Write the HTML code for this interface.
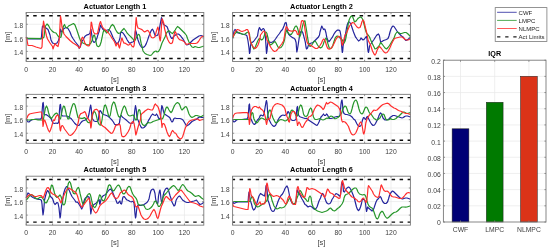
<!DOCTYPE html>
<html><head><meta charset="utf-8"><style>html,body{margin:0;padding:0;background:#fff;}svg{display:block;filter:blur(0.3px);}</style></head>
<body><svg width="550" height="251" viewBox="0 0 550 251">
<rect width="550" height="251" fill="#fff"/>
<path d="M52.57 12.50V61.45M78.94 12.50V61.45M105.31 12.50V61.45M131.68 12.50V61.45M158.05 12.50V61.45M184.42 12.50V61.45M26.20 51.40H203.80M26.20 37.85H203.80M26.20 24.30H203.80" stroke="#e8e8e8" stroke-width="0.7" fill="none"/>
<path d="M26.20 15.80H203.80" stroke="#0a0a0a" stroke-width="1.4" stroke-dasharray="3.5 4.5" stroke-dashoffset="1" fill="none"/>
<path d="M26.20 58.45H203.80" stroke="#0a0a0a" stroke-width="1.4" stroke-dasharray="3.5 4.5" stroke-dashoffset="1" fill="none"/>
<path d="M26.2 37.2 L27.5 38.8 L29.0 39.0 L41.0 38.9 L41.5 36.5 L42.0 30.0 L42.5 26.0 L43.5 27.0 L45.0 27.0 L46.0 28.0 L48.0 29.5 L50.0 35.0 L51.0 40.0 L52.5 43.0 L55.0 43.8 L57.0 43.0 L58.5 40.5 L59.5 37.0 L60.0 33.0 L60.5 29.0 L61.5 32.0 L62.5 31.5 L63.5 29.0 L65.0 28.0 L66.5 27.5 L68.0 28.5 L70.0 32.0 L71.5 36.0 L73.0 38.5 L75.0 41.5 L77.0 44.0 L78.5 46.2 L79.2 48.3 L80.4 46.7 L81.6 42.0 L83.2 39.6 L84.8 36.4 L86.0 35.6 L87.2 34.8 L88.8 34.4 L90.0 33.2 L90.5 30.0 L91.0 29.5 L91.5 33.0 L92.0 36.4 L92.7 40.4 L93.5 42.0 L94.3 42.4 L95.5 41.2 L96.7 38.8 L97.9 34.8 L99.1 31.6 L99.9 28.0 L100.5 25.0 L101.5 27.0 L103.0 29.5 L104.5 30.5 L106.0 30.5 L107.5 30.0 L109.0 29.5 L110.5 31.5 L112.0 35.0 L113.0 37.5 L115.0 41.0 L116.5 43.5 L118.0 43.0 L119.0 41.0 L120.0 38.0 L120.5 33.0 L121.5 32.0 L123.0 33.0 L124.0 34.4 L125.6 36.8 L127.2 40.0 L128.8 42.4 L130.0 43.2 L131.2 42.4 L132.8 42.0 L134.0 41.2 L134.8 36.0 L135.2 32.0 L135.6 30.4 L136.4 32.8 L137.2 36.8 L138.0 40.0 L139.2 43.2 L140.3 45.5 L141.5 47.1 L142.7 47.5 L143.9 47.1 L145.1 45.9 L146.3 43.6 L147.5 40.4 L148.7 36.8 L149.9 33.6 L151.5 30.0 L152.5 29.2 L153.5 31.0 L154.5 34.0 L155.5 36.0 L156.8 35.5 L157.9 34.9 L159.1 30.7 L160.3 23.6 L161.5 17.6 L162.5 21.5 L163.5 24.5 L165.1 25.4 L166.9 26.5 L167.6 28.0 L168.4 30.4 L169.2 32.8 L170.0 35.2 L170.8 37.2 L171.6 38.4 L172.4 38.4 L173.2 37.2 L174.0 36.0 L174.8 35.6 L175.9 34.8 L177.1 34.0 L178.3 34.0 L179.5 34.8 L180.7 36.0 L181.9 37.6 L183.1 39.2 L184.3 41.2 L185.5 43.6 L186.7 44.8 L188.5 44.5 L190.0 43.0 L191.5 41.5 L193.0 40.0 L194.5 39.0 L196.0 38.0 L197.5 37.0 L199.0 36.0 L201.0 35.5 L202.5 36.0 L203.8 36.5" stroke="#24249c" stroke-width="1.2" fill="none" stroke-linejoin="round"/>
<path d="M26.2 37.6 L27.5 38.4 L42.0 38.7 L43.0 38.0 L44.0 37.0 L45.0 29.0 L45.5 26.0 L47.0 24.0 L48.5 25.5 L50.0 28.5 L52.0 31.0 L54.0 32.5 L56.0 33.0 L58.0 36.0 L59.0 37.0 L60.0 37.5 L61.0 37.0 L62.5 30.0 L63.5 26.0 L64.5 24.5 L65.5 27.0 L67.0 28.0 L68.5 26.0 L70.5 25.0 L73.5 23.5 L75.0 25.0 L76.5 29.0 L78.0 33.5 L79.5 38.0 L80.8 41.2 L82.4 42.8 L85.0 44.0 L87.0 44.8 L89.2 44.8 L90.8 43.2 L92.0 40.4 L93.0 37.0 L93.5 35.6 L94.3 34.8 L95.1 37.2 L96.0 42.0 L96.7 45.2 L97.5 46.3 L98.7 46.7 L99.9 45.5 L101.1 42.0 L102.3 36.4 L103.1 32.4 L104.0 30.0 L105.5 31.5 L106.5 33.0 L108.0 32.0 L109.5 29.0 L111.0 26.0 L112.5 24.5 L114.0 26.0 L115.5 29.5 L117.0 32.0 L118.5 33.5 L120.0 33.0 L122.0 30.5 L124.0 28.5 L125.6 30.5 L127.2 33.2 L128.8 34.8 L130.4 36.4 L132.0 38.0 L133.6 40.0 L134.4 40.8 L135.2 40.0 L136.4 37.6 L137.6 35.2 L138.4 34.4 L139.2 34.8 L140.0 36.8 L140.3 39.2 L141.1 43.2 L142.0 46.3 L143.0 51.0 L145.0 53.5 L147.0 54.5 L148.5 55.0 L150.0 55.5 L151.5 55.0 L153.0 53.0 L154.5 51.5 L156.0 51.0 L157.0 52.0 L158.5 51.5 L160.0 49.0 L161.0 46.0 L162.0 43.0 L163.5 40.0 L165.0 37.0 L166.4 33.2 L167.6 31.6 L168.8 30.8 L170.0 31.6 L171.2 32.8 L172.4 33.6 L173.6 32.4 L174.4 31.2 L175.2 30.0 L176.0 28.5 L177.5 26.5 L179.0 27.5 L181.0 29.5 L183.0 31.5 L185.0 33.5 L186.5 35.5 L187.5 38.5 L189.0 42.0 L190.5 45.0 L192.0 47.0 L193.5 47.5 L195.0 46.5 L196.5 47.0 L198.0 47.5 L199.5 47.5 L201.0 47.0 L202.5 46.5 L203.8 46.0" stroke="#26962a" stroke-width="1.2" fill="none" stroke-linejoin="round"/>
<path d="M26.2 37.0 L27.0 40.0 L28.0 45.5 L32.0 45.5 L36.0 47.0 L41.0 48.5 L42.0 47.0 L42.5 37.0 L43.0 27.0 L43.5 21.2 L45.0 29.0 L46.5 36.0 L47.5 39.0 L50.0 43.0 L52.5 46.5 L53.0 49.0 L54.0 46.0 L55.0 43.5 L56.0 45.0 L58.0 46.5 L59.0 42.0 L59.5 37.0 L60.0 25.0 L60.5 16.0 L61.2 20.0 L62.0 27.0 L64.0 34.0 L66.0 36.5 L68.0 38.5 L70.0 40.5 L73.0 43.0 L75.5 44.5 L77.6 46.0 L79.2 48.0 L80.0 47.1 L80.8 43.6 L81.6 38.8 L82.4 37.2 L83.2 38.0 L84.0 40.4 L84.8 42.8 L86.0 44.8 L87.2 45.6 L88.8 46.0 L89.6 45.2 L90.2 40.0 L90.6 30.0 L91.2 22.0 L91.6 22.5 L92.5 28.0 L93.5 32.0 L94.5 33.5 L96.0 34.0 L97.5 33.5 L98.5 29.0 L99.5 24.0 L100.5 21.5 L101.5 24.5 L102.5 27.0 L104.0 29.0 L105.5 30.0 L107.0 31.5 L108.5 33.0 L110.0 35.0 L111.0 36.5 L112.5 39.0 L114.0 41.0 L115.0 43.0 L116.0 46.0 L117.0 44.0 L118.0 43.0 L119.0 47.0 L119.5 48.0 L120.5 44.0 L121.5 39.0 L122.0 38.0 L123.0 41.0 L124.0 43.2 L125.2 43.2 L126.4 44.0 L128.0 45.1 L129.2 44.7 L130.0 43.6 L130.8 44.3 L132.0 46.3 L133.2 47.1 L134.0 45.9 L134.4 43.2 L134.8 38.4 L135.2 32.8 L135.6 25.0 L136.2 17.5 L137.0 25.0 L138.0 28.0 L140.0 28.8 L142.0 29.6 L143.5 31.2 L144.7 32.0 L145.9 31.2 L147.1 30.4 L148.3 30.8 L149.5 32.8 L150.3 35.2 L151.5 37.5 L153.0 38.0 L154.4 37.3 L155.0 36.7 L156.2 31.9 L157.4 28.3 L157.9 27.1 L158.5 29.5 L159.1 34.3 L159.7 39.1 L160.3 41.0 L160.9 35.5 L161.5 25.9 L162.1 18.8 L162.7 20.0 L163.9 23.6 L164.4 28.0 L165.2 31.2 L166.0 34.4 L166.8 36.8 L167.6 39.2 L168.8 41.6 L170.0 43.2 L171.2 43.6 L172.4 42.8 L173.2 39.2 L174.0 35.2 L174.8 32.0 L175.2 31.6 L175.9 32.8 L176.7 35.2 L177.9 37.6 L179.1 39.2 L180.3 40.0 L181.5 40.2 L182.7 40.8 L184.0 41.5 L185.5 43.5 L186.5 44.5 L188.0 44.0 L189.5 43.5 L191.0 43.5 L194.0 43.5 L195.5 43.5 L197.0 43.0 L198.5 41.5 L200.0 39.0 L201.5 37.0 L202.5 36.5 L203.8 36.0" stroke="#ff2d2d" stroke-width="1.2" fill="none" stroke-linejoin="round"/>
<rect x="26.20" y="12.50" width="177.60" height="48.95" stroke="#7a7a7a" stroke-width="0.9" fill="none"/>
<path d="M26.20 61.45v-1.6M26.20 12.50v1.6M52.57 61.45v-1.6M52.57 12.50v1.6M78.94 61.45v-1.6M78.94 12.50v1.6M105.31 61.45v-1.6M105.31 12.50v1.6M131.68 61.45v-1.6M131.68 12.50v1.6M158.05 61.45v-1.6M158.05 12.50v1.6M184.42 61.45v-1.6M184.42 12.50v1.6M26.20 51.40h1.6M203.80 51.40h-1.6M26.20 37.85h1.6M203.80 37.85h-1.6M26.20 24.30h1.6M203.80 24.30h-1.6" stroke="#7a7a7a" stroke-width="0.8" fill="none"/>
<text x="26.20" y="71.75" text-anchor="middle" font-size="6.8" fill="#404040" font-family="Liberation Sans, Arial, sans-serif">0</text>
<text x="52.57" y="71.75" text-anchor="middle" font-size="6.8" fill="#404040" font-family="Liberation Sans, Arial, sans-serif">20</text>
<text x="78.94" y="71.75" text-anchor="middle" font-size="6.8" fill="#404040" font-family="Liberation Sans, Arial, sans-serif">40</text>
<text x="105.31" y="71.75" text-anchor="middle" font-size="6.8" fill="#404040" font-family="Liberation Sans, Arial, sans-serif">60</text>
<text x="131.68" y="71.75" text-anchor="middle" font-size="6.8" fill="#404040" font-family="Liberation Sans, Arial, sans-serif">80</text>
<text x="158.05" y="71.75" text-anchor="middle" font-size="6.8" fill="#404040" font-family="Liberation Sans, Arial, sans-serif">100</text>
<text x="184.42" y="71.75" text-anchor="middle" font-size="6.8" fill="#404040" font-family="Liberation Sans, Arial, sans-serif">120</text>
<text x="23.20" y="55.10" text-anchor="end" font-size="6.6" fill="#404040" font-family="Liberation Sans, Arial, sans-serif">1.4</text>
<text x="23.20" y="41.55" text-anchor="end" font-size="6.6" fill="#404040" font-family="Liberation Sans, Arial, sans-serif">1.6</text>
<text x="23.20" y="28.00" text-anchor="end" font-size="6.6" fill="#404040" font-family="Liberation Sans, Arial, sans-serif">1.8</text>
<text x="115.00" y="8.70" text-anchor="middle" font-size="7.35" font-weight="bold" fill="#000000" font-family="Liberation Sans, Arial, sans-serif">Actuator Length 1</text>
<text x="115.00" y="81.65" text-anchor="middle" font-size="7.5" fill="#404040" font-family="Liberation Sans, Arial, sans-serif">[s]</text>
<text x="9.70" y="36.98" text-anchor="middle" font-size="7.5" fill="#404040" transform="rotate(-90 9.70 36.98)" font-family="Liberation Sans, Arial, sans-serif">[m]</text>
<path d="M259.00 12.50V61.45M285.40 12.50V61.45M311.80 12.50V61.45M338.20 12.50V61.45M364.60 12.50V61.45M391.00 12.50V61.45M232.60 51.40H410.40M232.60 37.85H410.40M232.60 24.30H410.40" stroke="#e8e8e8" stroke-width="0.7" fill="none"/>
<path d="M232.60 15.80H410.40" stroke="#0a0a0a" stroke-width="1.4" stroke-dasharray="3.5 4.5" stroke-dashoffset="1" fill="none"/>
<path d="M232.60 58.45H410.40" stroke="#0a0a0a" stroke-width="1.4" stroke-dasharray="3.5 4.5" stroke-dashoffset="1" fill="none"/>
<path d="M232.6 38.0 L233.0 37.0 L234.0 31.0 L235.0 29.5 L236.0 30.5 L237.0 32.0 L238.0 33.0 L240.0 33.5 L242.0 34.0 L244.0 34.5 L246.0 35.0 L247.0 36.0 L248.0 41.0 L249.0 48.0 L249.5 53.5 L250.0 52.0 L250.5 46.0 L251.0 43.0 L252.0 42.5 L253.5 41.5 L255.0 39.5 L256.5 37.5 L257.5 36.0 L258.5 30.0 L259.5 27.5 L260.5 29.5 L261.5 30.5 L262.5 29.0 L263.5 28.5 L264.5 30.0 L265.0 33.0 L265.5 38.0 L266.0 46.0 L266.5 53.5 L267.0 51.0 L267.5 45.0 L268.0 42.0 L269.5 42.0 L271.0 42.5 L272.5 42.0 L274.0 41.0 L275.5 39.0 L276.5 37.5 L277.5 36.0 L279.5 33.5 L281.0 31.0 L282.5 29.5 L284.0 26.0 L285.0 23.0 L286.0 22.5 L286.5 24.0 L287.3 30.8 L288.6 34.3 L290.4 36.0 L292.1 37.4 L293.9 38.2 L295.2 39.5 L296.1 42.5 L296.5 48.0 L296.8 52.0 L297.5 49.0 L298.3 44.0 L299.2 37.8 L300.0 33.4 L300.9 31.6 L301.8 31.2 L302.7 32.5 L303.5 35.2 L304.4 38.7 L305.3 42.2 L306.0 47.0 L306.5 49.0 L307.5 48.0 L308.5 45.0 L310.0 43.5 L311.5 43.0 L313.0 42.5 L314.5 41.0 L316.0 39.5 L317.5 38.0 L318.5 37.0 L319.5 35.0 L320.0 32.0 L321.0 28.5 L321.8 26.0 L322.5 27.5 L323.5 29.5 L324.5 29.0 L325.0 29.5 L326.0 33.0 L326.5 36.0 L327.0 38.0 L328.0 40.5 L329.0 41.5 L330.0 40.5 L331.0 39.0 L332.4 37.2 L334.0 34.0 L335.6 31.6 L337.2 30.2 L338.8 30.0 L340.0 31.0 L340.8 35.0 L341.2 40.4 L341.6 45.0 L342.0 50.0 L342.3 52.5 L342.7 51.0 L343.1 46.0 L343.9 42.0 L344.7 38.8 L345.5 34.0 L346.5 28.0 L347.5 24.0 L348.5 22.0 L349.5 22.0 L350.5 23.5 L351.5 26.0 L352.5 29.0 L353.5 32.0 L354.5 34.5 L355.5 37.0 L356.0 37.5 L357.0 39.0 L358.5 41.0 L360.0 40.0 L361.0 38.0 L362.0 39.0 L363.0 40.0 L364.5 39.0 L365.5 37.5 L366.5 36.5 L367.0 39.0 L367.5 46.0 L368.0 51.0 L368.5 52.5 L369.0 50.0 L369.5 46.0 L370.5 44.5 L371.5 43.0 L372.5 41.5 L374.0 39.5 L375.5 37.0 L376.5 35.5 L377.5 34.5 L378.5 34.0 L379.5 36.0 L380.0 39.0 L380.5 41.5 L381.0 42.0 L382.0 41.5 L383.5 40.5 L385.0 40.0 L386.5 39.5 L388.0 38.5 L389.0 36.0 L390.0 32.0 L391.0 29.0 L392.0 27.0 L393.0 26.0 L394.0 26.5 L395.0 28.0 L396.0 29.5 L397.0 31.0 L398.5 33.0 L400.0 34.5 L401.5 36.0 L403.0 37.0 L403.5 37.5 L405.0 39.5 L406.0 40.5 L407.0 40.0 L408.5 39.0 L409.5 38.0 L410.4 37.5" stroke="#24249c" stroke-width="1.2" fill="none" stroke-linejoin="round"/>
<path d="M232.6 38.0 L233.0 37.0 L235.0 33.5 L237.0 32.0 L239.0 32.5 L241.0 33.5 L243.0 34.5 L245.0 34.0 L247.0 32.5 L248.5 32.0 L249.5 34.0 L250.0 39.0 L251.0 42.5 L252.0 45.0 L253.0 47.5 L253.8 49.0 L254.6 48.5 L255.5 46.5 L256.5 44.0 L257.5 41.5 L258.5 39.5 L259.5 38.5 L260.5 39.0 L261.5 40.0 L262.5 39.5 L263.5 38.0 L264.5 35.0 L265.0 32.5 L266.0 32.0 L267.0 33.5 L267.5 36.0 L268.5 40.0 L269.5 43.5 L270.5 45.0 L272.0 44.0 L273.5 42.5 L275.0 41.5 L276.0 43.0 L277.0 45.0 L278.0 47.0 L279.5 48.0 L281.0 47.5 L282.5 45.5 L283.5 43.0 L284.5 40.0 L285.5 34.0 L286.4 30.0 L287.8 32.5 L289.5 34.3 L291.3 34.3 L292.6 32.5 L293.9 29.0 L295.2 26.4 L296.1 25.9 L297.0 26.8 L297.8 29.0 L298.7 32.5 L299.2 35.2 L299.6 36.9 L300.5 35.2 L301.4 31.6 L302.2 27.3 L303.1 23.8 L304.0 21.0 L305.0 20.8 L305.7 25.5 L306.6 30.8 L307.5 36.9 L308.4 42.2 L309.0 45.0 L310.0 46.5 L311.0 46.0 L312.5 44.0 L313.5 42.0 L314.5 41.0 L315.5 41.5 L316.5 43.0 L317.5 45.0 L319.0 47.0 L320.5 48.0 L322.0 47.0 L323.0 45.0 L324.0 42.0 L325.0 39.5 L326.0 38.0 L327.0 40.0 L328.0 44.0 L329.2 47.9 L330.4 48.5 L331.6 48.0 L332.8 45.5 L334.0 41.5 L335.2 38.0 L336.4 36.4 L337.6 36.0 L338.8 36.8 L340.0 38.0 L341.2 38.8 L342.3 40.0 L343.1 42.0 L343.9 43.2 L344.7 42.0 L345.5 40.0 L346.3 36.0 L347.1 31.0 L347.9 27.0 L348.5 22.0 L349.5 19.0 L350.5 17.0 L351.5 16.0 L352.5 16.5 L353.5 19.0 L354.5 22.0 L355.5 21.5 L356.5 20.5 L357.5 19.0 L358.5 18.0 L359.5 17.5 L360.5 17.0 L361.5 17.5 L362.5 19.0 L363.5 22.0 L364.5 26.0 L365.5 30.0 L366.5 33.0 L367.5 34.5 L368.5 35.5 L369.5 37.0 L370.5 39.5 L372.0 43.0 L373.5 46.0 L375.0 49.0 L376.5 48.5 L378.0 47.0 L379.5 45.0 L380.5 42.5 L382.0 44.0 L383.5 46.0 L385.0 48.0 L386.5 49.0 L388.0 47.5 L389.5 45.5 L391.0 43.0 L392.5 40.5 L394.0 38.0 L395.5 34.0 L397.0 32.0 L398.5 32.5 L400.0 33.5 L401.5 33.5 L403.0 33.0 L404.5 32.5 L406.0 32.5 L407.5 33.5 L409.0 35.0 L410.4 36.5" stroke="#26962a" stroke-width="1.2" fill="none" stroke-linejoin="round"/>
<path d="M232.6 37.5 L233.0 37.0 L234.5 33.0 L236.0 30.5 L237.5 29.5 L239.0 30.0 L240.5 31.0 L242.0 31.5 L243.5 31.0 L245.0 30.5 L246.5 29.5 L247.5 29.5 L248.5 31.5 L249.5 36.0 L250.5 42.0 L252.0 45.0 L253.5 47.5 L255.0 48.5 L256.5 47.5 L258.0 45.0 L259.0 42.0 L260.0 38.5 L260.5 35.0 L262.0 33.0 L263.5 31.0 L264.5 31.5 L265.5 33.5 L266.5 37.0 L267.0 40.0 L268.0 42.0 L269.0 43.5 L270.0 46.0 L271.5 48.5 L273.0 50.5 L274.5 51.5 L276.0 51.0 L277.5 49.5 L279.0 47.5 L280.5 45.5 L282.0 43.5 L283.5 41.0 L284.5 36.0 L285.3 30.0 L286.3 26.5 L287.5 28.0 L288.6 30.3 L290.4 30.8 L292.1 31.2 L293.9 30.8 L295.2 30.3 L296.5 31.6 L297.4 34.3 L298.3 34.7 L299.2 33.4 L300.0 29.0 L300.9 24.6 L301.5 21.0 L302.5 20.5 L303.5 21.5 L304.4 25.5 L305.3 31.6 L306.2 37.8 L307.0 42.0 L308.0 44.0 L309.5 44.5 L311.0 45.5 L312.5 46.5 L314.0 47.5 L315.5 48.5 L317.0 48.5 L318.5 47.5 L320.0 45.5 L321.5 43.0 L322.5 40.5 L323.5 39.0 L324.5 39.5 L325.5 42.0 L326.5 45.5 L327.5 48.0 L328.5 49.0 L330.0 49.1 L331.5 47.9 L333.0 45.6 L334.4 42.8 L335.6 40.0 L336.8 38.0 L338.0 36.8 L339.2 36.4 L340.4 37.2 L341.2 38.8 L341.6 41.2 L341.9 44.0 L342.3 45.2 L342.7 44.4 L343.5 41.2 L344.3 38.0 L345.1 34.8 L346.5 33.0 L348.0 29.5 L349.5 26.0 L351.0 24.0 L352.5 22.5 L354.0 23.0 L355.5 25.0 L357.0 27.0 L358.5 28.0 L360.0 27.5 L361.0 25.0 L362.0 21.5 L363.0 20.0 L364.0 21.5 L365.0 26.0 L366.0 30.0 L367.0 34.0 L368.0 40.0 L369.0 42.0 L370.0 44.0 L371.0 46.5 L372.5 51.0 L374.0 54.0 L375.0 55.0 L376.0 53.5 L377.0 50.5 L378.5 47.5 L379.5 46.5 L381.0 48.0 L382.5 50.0 L384.0 52.0 L385.5 53.0 L387.0 52.5 L388.5 50.5 L390.0 47.5 L391.5 44.0 L393.0 41.0 L394.5 38.5 L396.0 38.0 L398.0 37.5 L400.0 37.0 L402.0 37.0 L403.5 38.0 L405.0 39.5 L406.5 40.0 L408.0 40.0 L409.5 39.5 L410.4 39.0" stroke="#ff2d2d" stroke-width="1.2" fill="none" stroke-linejoin="round"/>
<rect x="232.60" y="12.50" width="177.80" height="48.95" stroke="#7a7a7a" stroke-width="0.9" fill="none"/>
<path d="M232.60 61.45v-1.6M232.60 12.50v1.6M259.00 61.45v-1.6M259.00 12.50v1.6M285.40 61.45v-1.6M285.40 12.50v1.6M311.80 61.45v-1.6M311.80 12.50v1.6M338.20 61.45v-1.6M338.20 12.50v1.6M364.60 61.45v-1.6M364.60 12.50v1.6M391.00 61.45v-1.6M391.00 12.50v1.6M232.60 51.40h1.6M410.40 51.40h-1.6M232.60 37.85h1.6M410.40 37.85h-1.6M232.60 24.30h1.6M410.40 24.30h-1.6" stroke="#7a7a7a" stroke-width="0.8" fill="none"/>
<text x="232.60" y="71.75" text-anchor="middle" font-size="6.8" fill="#404040" font-family="Liberation Sans, Arial, sans-serif">0</text>
<text x="259.00" y="71.75" text-anchor="middle" font-size="6.8" fill="#404040" font-family="Liberation Sans, Arial, sans-serif">20</text>
<text x="285.40" y="71.75" text-anchor="middle" font-size="6.8" fill="#404040" font-family="Liberation Sans, Arial, sans-serif">40</text>
<text x="311.80" y="71.75" text-anchor="middle" font-size="6.8" fill="#404040" font-family="Liberation Sans, Arial, sans-serif">60</text>
<text x="338.20" y="71.75" text-anchor="middle" font-size="6.8" fill="#404040" font-family="Liberation Sans, Arial, sans-serif">80</text>
<text x="364.60" y="71.75" text-anchor="middle" font-size="6.8" fill="#404040" font-family="Liberation Sans, Arial, sans-serif">100</text>
<text x="391.00" y="71.75" text-anchor="middle" font-size="6.8" fill="#404040" font-family="Liberation Sans, Arial, sans-serif">120</text>
<text x="229.60" y="55.10" text-anchor="end" font-size="6.6" fill="#404040" font-family="Liberation Sans, Arial, sans-serif">1.4</text>
<text x="229.60" y="41.55" text-anchor="end" font-size="6.6" fill="#404040" font-family="Liberation Sans, Arial, sans-serif">1.6</text>
<text x="229.60" y="28.00" text-anchor="end" font-size="6.6" fill="#404040" font-family="Liberation Sans, Arial, sans-serif">1.8</text>
<text x="321.50" y="8.70" text-anchor="middle" font-size="7.35" font-weight="bold" fill="#000000" font-family="Liberation Sans, Arial, sans-serif">Actuator Length 2</text>
<text x="321.50" y="81.65" text-anchor="middle" font-size="7.5" fill="#404040" font-family="Liberation Sans, Arial, sans-serif">[s]</text>
<text x="216.10" y="36.98" text-anchor="middle" font-size="7.5" fill="#404040" transform="rotate(-90 216.10 36.98)" font-family="Liberation Sans, Arial, sans-serif">[m]</text>
<path d="M52.57 94.35V143.30M78.94 94.35V143.30M105.31 94.35V143.30M131.68 94.35V143.30M158.05 94.35V143.30M184.42 94.35V143.30M26.20 133.25H203.80M26.20 119.70H203.80M26.20 106.15H203.80" stroke="#e8e8e8" stroke-width="0.7" fill="none"/>
<path d="M26.20 97.65H203.80" stroke="#0a0a0a" stroke-width="1.4" stroke-dasharray="3.5 4.5" stroke-dashoffset="1" fill="none"/>
<path d="M26.20 140.30H203.80" stroke="#0a0a0a" stroke-width="1.4" stroke-dasharray="3.5 4.5" stroke-dashoffset="1" fill="none"/>
<path d="M26.2 119.0 L27.0 120.5 L28.0 122.0 L29.0 122.0 L30.0 121.0 L31.5 120.0 L33.5 119.5 L36.0 119.2 L38.5 119.2 L40.5 119.2 L41.5 118.0 L42.2 110.0 L42.8 103.0 L43.2 102.5 L43.7 107.0 L44.0 114.0 L44.5 115.0 L46.0 114.5 L47.5 115.5 L49.0 116.5 L50.5 118.0 L51.5 119.5 L52.0 121.0 L53.0 123.0 L54.5 123.5 L56.0 123.0 L57.5 123.5 L58.5 122.5 L59.0 119.0 L59.5 110.0 L60.0 105.0 L60.5 104.5 L61.0 109.0 L61.5 115.0 L62.5 116.0 L64.5 116.0 L66.5 116.0 L68.0 116.5 L69.5 117.5 L71.0 118.5 L71.5 119.0 L73.0 121.0 L74.5 123.0 L76.0 124.5 L77.5 125.5 L79.0 125.5 L80.0 124.0 L81.0 122.5 L82.5 121.0 L84.0 120.5 L85.5 120.0 L86.5 119.0 L88.0 118.0 L89.0 114.0 L90.0 108.0 L90.7 105.0 L91.2 108.0 L91.7 114.0 L92.0 118.0 L93.0 119.5 L94.0 121.0 L95.5 121.5 L97.0 121.5 L98.0 120.5 L98.5 119.0 L99.0 114.0 L100.0 110.5 L101.0 111.5 L102.0 113.5 L103.5 114.5 L105.0 115.0 L106.5 115.5 L108.0 116.2 L109.8 117.8 L111.6 119.6 L113.4 122.0 L114.6 124.3 L115.8 124.9 L117.0 124.6 L118.2 124.5 L119.4 123.1 L119.9 119.6 L120.5 116.0 L121.1 115.4 L122.3 117.0 L124.1 118.4 L125.9 119.8 L127.7 121.4 L129.5 123.0 L131.3 123.5 L133.0 123.0 L133.7 120.8 L134.3 114.8 L134.8 110.0 L135.5 105.5 L136.2 109.0 L136.8 116.0 L137.2 119.0 L138.0 120.0 L139.0 122.5 L140.0 125.0 L141.0 127.0 L142.0 128.0 L143.0 128.0 L144.0 127.5 L145.0 126.5 L146.0 125.5 L147.0 123.5 L148.0 121.5 L149.0 119.5 L149.5 119.0 L151.0 116.0 L152.5 114.0 L154.0 115.0 L155.5 115.5 L156.5 114.0 L157.5 115.5 L158.5 118.0 L159.5 119.0 L160.5 118.0 L161.0 112.0 L161.8 105.5 L162.5 107.0 L163.5 111.5 L164.5 114.0 L166.0 115.0 L167.5 116.0 L169.0 117.0 L170.0 118.0 L171.0 120.5 L172.0 122.0 L173.0 121.0 L173.5 119.5 L174.0 118.5 L175.0 118.0 L176.5 118.5 L178.0 118.5 L180.0 118.5 L181.5 119.0 L183.0 120.0 L184.5 122.5 L186.0 125.0 L186.5 126.0 L187.5 125.5 L189.0 124.5 L190.5 123.0 L192.0 121.5 L194.0 120.5 L196.0 119.5 L197.5 118.5 L198.5 117.5 L200.0 117.0 L201.5 117.5 L203.0 117.5 L203.8 117.0" stroke="#24249c" stroke-width="1.2" fill="none" stroke-linejoin="round"/>
<path d="M26.2 119.5 L28.0 120.0 L30.0 120.0 L32.0 119.5 L36.0 119.5 L38.0 119.8 L41.0 120.0 L42.0 120.0 L43.0 120.5 L43.5 119.0 L44.5 113.0 L45.5 108.0 L46.5 106.0 L47.5 108.0 L48.5 112.5 L49.5 115.5 L50.5 117.5 L51.5 118.5 L52.5 117.0 L54.0 115.0 L55.5 113.5 L56.5 113.0 L57.5 114.0 L58.5 116.0 L59.5 118.0 L60.0 119.0 L60.5 119.0 L61.5 114.0 L62.5 109.0 L63.5 106.0 L64.5 106.5 L65.5 110.5 L66.5 115.0 L67.5 118.0 L68.0 119.0 L69.0 119.0 L70.0 114.0 L71.5 108.0 L73.0 104.0 L74.0 103.5 L75.0 105.0 L76.0 109.0 L77.0 113.5 L78.0 117.6 L79.6 118.0 L81.2 118.4 L82.8 118.4 L84.4 117.6 L85.6 118.4 L86.8 120.8 L88.0 122.4 L89.2 122.8 L90.4 122.4 L91.2 120.8 L92.0 117.6 L92.8 114.4 L93.6 112.4 L94.4 111.6 L95.2 112.4 L96.0 114.4 L96.8 117.6 L97.6 120.8 L98.4 123.2 L99.2 124.4 L100.4 125.2 L101.2 124.0 L102.0 120.0 L102.8 114.4 L103.6 109.6 L104.5 105.5 L105.5 105.0 L106.5 107.5 L107.5 111.5 L108.5 115.5 L109.3 116.8 L110.2 115.5 L111.0 111.0 L111.8 106.0 L112.5 104.0 L113.5 102.0 L114.5 102.5 L115.5 105.5 L116.5 109.5 L117.5 113.5 L118.5 116.2 L119.6 117.2 L120.5 116.5 L122.0 111.0 L123.5 107.0 L124.5 106.0 L125.5 107.5 L126.5 111.0 L127.5 114.0 L128.5 115.5 L130.0 116.0 L131.5 115.5 L133.0 115.0 L134.0 116.0 L135.0 119.0 L136.0 120.0 L137.0 119.0 L138.0 112.0 L139.0 109.5 L140.0 110.5 L140.5 114.0 L141.0 119.0 L141.5 122.5 L142.5 124.5 L144.0 125.5 L145.5 125.0 L147.0 123.5 L148.5 122.5 L150.0 123.0 L151.5 122.5 L153.0 121.5 L154.5 121.0 L156.0 120.5 L157.5 120.0 L159.0 119.5 L160.5 119.0 L162.0 119.0 L163.0 118.0 L164.0 115.0 L165.0 111.0 L166.0 108.0 L167.0 107.0 L168.0 108.0 L169.0 110.0 L170.0 111.5 L171.0 112.5 L172.0 111.5 L173.0 109.0 L174.5 105.5 L176.0 103.5 L177.5 102.5 L179.0 103.5 L180.0 105.5 L181.0 108.5 L182.0 110.0 L183.5 108.5 L185.0 107.0 L186.0 106.5 L187.0 108.0 L188.0 111.0 L189.0 114.0 L190.5 116.5 L192.0 117.5 L194.0 116.5 L195.5 115.5 L197.0 115.5 L198.5 116.0 L200.0 116.5 L201.5 116.5 L203.0 115.5 L203.8 115.0" stroke="#26962a" stroke-width="1.2" fill="none" stroke-linejoin="round"/>
<path d="M26.2 119.0 L27.0 118.0 L28.0 115.5 L29.5 114.0 L31.5 113.5 L34.0 113.0 L37.0 112.5 L40.0 112.0 L41.5 112.0 L42.0 114.0 L42.5 119.0 L43.0 126.5 L43.5 124.0 L44.0 120.0 L44.7 120.0 L45.5 122.0 L46.5 125.0 L47.5 128.0 L48.5 130.5 L49.5 132.0 L50.5 130.0 L51.5 127.0 L52.5 123.5 L53.0 121.0 L53.5 120.0 L54.5 120.5 L55.0 119.0 L56.0 116.5 L57.5 115.0 L58.5 115.5 L59.0 118.0 L59.5 123.0 L60.0 129.0 L60.5 131.0 L61.0 128.0 L61.5 126.0 L62.5 125.5 L63.5 127.0 L64.5 129.0 L66.0 131.0 L67.5 133.0 L69.0 135.0 L70.5 135.5 L72.0 134.5 L73.5 133.0 L75.0 131.0 L76.5 128.5 L77.5 125.5 L78.5 121.0 L79.3 116.0 L80.8 113.6 L82.4 113.0 L83.6 112.4 L84.8 111.6 L85.6 112.8 L86.4 115.2 L87.2 117.6 L88.4 119.2 L89.6 120.8 L90.3 122.4 L90.8 128.0 L91.3 126.0 L91.8 121.0 L92.2 115.0 L92.8 112.8 L94.0 110.4 L95.2 109.6 L96.4 109.2 L97.6 110.0 L98.8 112.0 L99.6 116.0 L100.0 120.0 L100.5 123.5 L101.5 125.0 L103.0 126.2 L105.0 127.5 L107.0 129.5 L109.0 131.5 L111.0 133.3 L112.5 133.0 L114.0 130.0 L115.5 126.0 L116.5 124.8 L118.0 125.0 L119.5 124.0 L120.3 126.0 L121.0 132.0 L121.8 136.0 L123.0 136.8 L124.7 136.3 L126.5 134.3 L128.3 131.5 L129.5 129.0 L130.5 126.0 L131.0 123.5 L132.0 122.5 L133.0 121.5 L134.0 123.0 L135.0 129.0 L135.8 135.0 L136.5 133.0 L137.5 129.0 L138.5 125.5 L139.5 122.5 L140.5 119.5 L141.0 115.0 L142.0 113.5 L143.5 112.5 L145.0 111.0 L146.5 110.0 L148.0 109.0 L149.5 109.5 L151.0 110.0 L152.5 110.0 L153.5 108.0 L154.5 105.0 L155.5 104.0 L156.5 105.5 L157.5 106.0 L158.5 108.0 L159.5 111.5 L160.5 116.0 L161.0 118.0 L161.5 122.0 L162.0 127.5 L162.5 124.0 L163.5 123.5 L164.5 124.5 L165.5 127.0 L167.0 132.0 L168.5 135.5 L169.5 136.5 L170.5 135.0 L171.5 132.0 L172.5 130.5 L173.5 131.5 L174.5 133.0 L175.5 133.0 L176.5 134.5 L177.5 136.5 L179.0 138.0 L180.5 139.0 L181.5 138.5 L182.5 137.0 L183.5 134.0 L184.5 130.5 L185.5 127.5 L186.5 125.5 L187.5 123.5 L189.0 121.5 L190.5 120.5 L192.0 120.0 L194.0 119.5 L195.5 119.0 L197.0 119.0 L198.5 119.5 L199.5 120.5 L201.0 120.0 L202.5 119.5 L203.8 119.0" stroke="#ff2d2d" stroke-width="1.2" fill="none" stroke-linejoin="round"/>
<rect x="26.20" y="94.35" width="177.60" height="48.95" stroke="#7a7a7a" stroke-width="0.9" fill="none"/>
<path d="M26.20 143.30v-1.6M26.20 94.35v1.6M52.57 143.30v-1.6M52.57 94.35v1.6M78.94 143.30v-1.6M78.94 94.35v1.6M105.31 143.30v-1.6M105.31 94.35v1.6M131.68 143.30v-1.6M131.68 94.35v1.6M158.05 143.30v-1.6M158.05 94.35v1.6M184.42 143.30v-1.6M184.42 94.35v1.6M26.20 133.25h1.6M203.80 133.25h-1.6M26.20 119.70h1.6M203.80 119.70h-1.6M26.20 106.15h1.6M203.80 106.15h-1.6" stroke="#7a7a7a" stroke-width="0.8" fill="none"/>
<text x="26.20" y="153.60" text-anchor="middle" font-size="6.8" fill="#404040" font-family="Liberation Sans, Arial, sans-serif">0</text>
<text x="52.57" y="153.60" text-anchor="middle" font-size="6.8" fill="#404040" font-family="Liberation Sans, Arial, sans-serif">20</text>
<text x="78.94" y="153.60" text-anchor="middle" font-size="6.8" fill="#404040" font-family="Liberation Sans, Arial, sans-serif">40</text>
<text x="105.31" y="153.60" text-anchor="middle" font-size="6.8" fill="#404040" font-family="Liberation Sans, Arial, sans-serif">60</text>
<text x="131.68" y="153.60" text-anchor="middle" font-size="6.8" fill="#404040" font-family="Liberation Sans, Arial, sans-serif">80</text>
<text x="158.05" y="153.60" text-anchor="middle" font-size="6.8" fill="#404040" font-family="Liberation Sans, Arial, sans-serif">100</text>
<text x="184.42" y="153.60" text-anchor="middle" font-size="6.8" fill="#404040" font-family="Liberation Sans, Arial, sans-serif">120</text>
<text x="23.20" y="136.95" text-anchor="end" font-size="6.6" fill="#404040" font-family="Liberation Sans, Arial, sans-serif">1.4</text>
<text x="23.20" y="123.40" text-anchor="end" font-size="6.6" fill="#404040" font-family="Liberation Sans, Arial, sans-serif">1.6</text>
<text x="23.20" y="109.85" text-anchor="end" font-size="6.6" fill="#404040" font-family="Liberation Sans, Arial, sans-serif">1.8</text>
<text x="115.00" y="90.55" text-anchor="middle" font-size="7.35" font-weight="bold" fill="#000000" font-family="Liberation Sans, Arial, sans-serif">Actuator Length 3</text>
<text x="115.00" y="163.50" text-anchor="middle" font-size="7.5" fill="#404040" font-family="Liberation Sans, Arial, sans-serif">[s]</text>
<text x="9.70" y="118.83" text-anchor="middle" font-size="7.5" fill="#404040" transform="rotate(-90 9.70 118.83)" font-family="Liberation Sans, Arial, sans-serif">[m]</text>
<path d="M259.00 94.35V143.30M285.40 94.35V143.30M311.80 94.35V143.30M338.20 94.35V143.30M364.60 94.35V143.30M391.00 94.35V143.30M232.60 133.25H410.40M232.60 119.70H410.40M232.60 106.15H410.40" stroke="#e8e8e8" stroke-width="0.7" fill="none"/>
<path d="M232.60 97.65H410.40" stroke="#0a0a0a" stroke-width="1.4" stroke-dasharray="3.5 4.5" stroke-dashoffset="1" fill="none"/>
<path d="M232.60 140.30H410.40" stroke="#0a0a0a" stroke-width="1.4" stroke-dasharray="3.5 4.5" stroke-dashoffset="1" fill="none"/>
<path d="M232.6 119.0 L233.0 121.0 L234.0 122.0 L235.0 121.5 L236.5 120.0 L238.0 119.5 L240.0 119.5 L242.0 119.5 L245.0 119.2 L247.0 119.0 L248.0 117.0 L248.5 112.0 L249.0 105.0 L249.5 104.0 L250.0 110.0 L250.5 117.0 L251.0 119.0 L251.5 120.0 L252.5 122.5 L253.5 124.0 L254.5 124.5 L255.5 123.5 L256.5 121.5 L257.5 120.0 L258.5 119.0 L259.5 117.5 L260.0 116.0 L261.0 115.0 L262.0 115.5 L263.0 116.0 L264.0 114.0 L265.0 108.0 L266.0 102.0 L266.5 100.5 L267.0 103.0 L267.5 110.0 L268.0 116.0 L268.5 118.5 L269.5 120.5 L271.0 123.5 L272.5 125.5 L274.0 126.5 L275.5 125.5 L276.5 123.5 L277.5 121.0 L278.5 119.0 L279.5 117.5 L280.0 117.0 L281.5 115.5 L283.0 115.0 L284.5 115.5 L285.5 115.0 L287.0 114.0 L288.0 111.5 L289.0 112.5 L290.0 115.5 L290.7 119.0 L291.5 120.0 L292.5 120.5 L294.5 120.3 L296.0 119.5 L296.5 113.0 L297.0 107.5 L297.5 106.5 L298.0 111.0 L298.5 115.0 L299.5 116.5 L300.5 117.0 L302.0 117.5 L303.5 118.0 L305.0 118.5 L306.5 118.3 L307.5 119.0 L308.5 120.0 L310.0 121.0 L311.5 122.0 L313.0 123.0 L314.5 124.0 L316.0 125.0 L317.0 125.5 L318.0 124.0 L319.0 122.0 L320.0 119.5 L321.0 117.0 L322.0 116.0 L323.5 114.0 L324.5 115.5 L325.5 115.5 L326.5 114.0 L327.5 115.0 L328.5 117.0 L329.5 118.3 L331.0 118.5 L333.0 118.0 L335.0 117.0 L337.0 116.5 L339.0 116.5 L340.0 115.0 L340.5 110.0 L341.0 104.0 L341.5 101.0 L342.0 100.0 L342.5 104.0 L343.0 111.0 L344.0 113.5 L345.5 114.5 L347.0 114.5 L348.5 115.0 L350.0 115.5 L351.5 116.5 L352.5 117.5 L353.5 119.0 L355.0 120.0 L356.0 122.0 L357.0 124.0 L358.0 125.5 L359.5 126.5 L360.5 126.0 L361.5 124.5 L362.0 122.0 L362.5 120.0 L363.5 117.5 L364.5 118.0 L365.0 119.0 L365.8 119.5 L366.8 117.0 L367.5 116.5 L368.5 118.5 L369.5 120.5 L370.5 122.5 L371.5 124.0 L373.0 125.5 L374.5 125.0 L375.5 123.5 L376.5 121.5 L377.5 119.5 L378.5 117.0 L379.0 115.5 L380.0 113.5 L380.5 113.0 L381.5 114.0 L382.5 116.5 L383.0 118.0 L384.0 119.0 L385.0 120.0 L386.5 120.0 L388.0 119.5 L389.5 118.5 L390.0 117.5 L391.5 116.5 L393.0 115.5 L394.5 115.5 L396.0 116.0 L397.5 116.5 L399.0 117.0 L400.5 117.5 L402.0 118.0 L403.5 117.5 L404.5 116.5 L406.0 116.0 L407.5 116.0 L409.0 116.5 L410.4 117.0" stroke="#24249c" stroke-width="1.2" fill="none" stroke-linejoin="round"/>
<path d="M232.6 119.5 L234.0 119.5 L237.0 119.5 L240.0 119.5 L243.0 119.5 L246.0 119.5 L248.0 119.5 L249.5 119.5 L250.0 119.0 L251.0 115.5 L252.0 112.5 L253.0 113.5 L253.5 117.0 L254.0 119.0 L254.5 120.0 L255.5 122.0 L256.5 123.0 L257.5 122.5 L258.5 121.0 L259.5 119.5 L260.5 118.5 L261.5 118.0 L263.0 118.5 L264.5 119.5 L266.0 120.0 L267.0 119.0 L268.0 114.0 L269.0 111.0 L270.0 110.0 L271.0 111.5 L272.0 115.0 L273.0 118.0 L274.0 120.0 L275.0 122.0 L276.0 123.0 L277.0 122.5 L278.0 121.5 L279.5 120.0 L281.0 119.5 L283.0 120.0 L285.0 121.0 L286.5 120.5 L287.5 119.5 L288.5 118.5 L289.0 118.0 L290.0 114.0 L291.0 111.0 L292.0 110.0 L293.0 110.5 L294.5 112.5 L296.0 115.5 L297.5 116.0 L298.5 111.5 L299.5 107.0 L300.5 105.0 L301.5 105.5 L302.5 109.0 L303.5 114.0 L304.5 116.0 L306.0 116.5 L307.5 115.5 L308.5 112.5 L309.5 109.5 L310.5 108.0 L311.5 109.0 L312.5 113.0 L313.5 117.0 L314.5 119.0 L315.5 119.5 L317.0 119.5 L318.5 119.0 L320.0 118.5 L321.5 119.5 L323.0 120.0 L324.5 119.5 L326.0 118.5 L327.0 118.0 L328.0 118.5 L329.5 117.0 L331.0 116.0 L332.5 116.5 L334.0 118.0 L335.0 118.8 L336.0 118.5 L338.0 117.5 L340.0 115.5 L341.5 113.5 L342.5 110.0 L343.5 107.5 L345.0 106.0 L346.0 106.5 L347.0 109.0 L348.0 112.0 L349.0 113.5 L350.0 114.0 L351.0 112.5 L352.0 109.0 L353.0 105.0 L354.0 102.0 L355.0 100.5 L356.0 100.0 L357.0 101.5 L358.0 105.0 L359.0 109.0 L360.0 112.0 L361.0 113.5 L362.0 114.0 L363.0 113.0 L364.0 110.5 L365.0 108.0 L366.0 107.0 L367.0 107.5 L368.0 109.5 L369.0 112.0 L370.0 113.5 L371.0 114.0 L372.0 115.5 L373.0 117.0 L374.0 118.5 L375.0 119.0 L376.0 119.8 L377.0 120.0 L378.0 119.5 L379.0 118.5 L380.0 118.0 L381.0 116.0 L382.0 114.5 L383.0 114.0 L384.0 114.5 L385.0 117.0 L386.0 119.5 L387.0 120.0 L388.0 120.0 L389.5 119.5 L390.5 118.5 L392.0 119.5 L394.0 119.5 L396.0 118.5 L397.0 117.5 L398.0 116.5 L399.0 116.0 L400.0 115.0 L401.0 114.0 L402.0 113.0 L403.0 112.0 L404.0 112.0 L405.0 112.5 L406.0 113.0 L407.5 113.5 L409.0 113.0 L410.4 112.5" stroke="#26962a" stroke-width="1.2" fill="none" stroke-linejoin="round"/>
<path d="M232.6 118.5 L233.5 115.5 L235.0 113.5 L237.0 113.0 L240.0 112.8 L243.0 112.7 L246.0 112.7 L247.5 112.7 L248.3 114.0 L248.8 118.0 L249.4 124.5 L250.0 121.0 L250.6 114.0 L251.5 110.0 L253.0 107.5 L254.5 106.5 L256.0 106.5 L257.5 107.5 L258.5 108.0 L259.5 107.0 L260.5 108.5 L261.5 109.5 L262.5 110.0 L263.5 111.5 L264.5 114.0 L265.3 117.0 L266.0 122.0 L266.5 124.5 L267.0 122.5 L267.5 120.0 L268.2 118.5 L269.0 119.3 L270.0 118.5 L271.0 114.0 L272.0 110.0 L273.0 107.0 L274.5 105.0 L276.0 104.0 L277.5 103.5 L279.0 104.0 L280.5 104.5 L282.0 105.0 L283.0 106.0 L284.0 107.0 L285.0 109.0 L286.0 113.0 L287.0 116.5 L288.0 118.5 L288.7 121.5 L289.3 122.0 L290.0 119.5 L291.0 114.0 L292.5 111.5 L294.0 111.5 L295.0 112.5 L296.0 115.0 L296.5 118.0 L297.0 122.0 L297.5 125.5 L298.0 124.0 L299.0 122.0 L300.0 123.5 L301.0 126.0 L302.0 127.5 L303.0 127.0 L304.0 125.0 L305.0 123.0 L306.0 121.5 L307.0 120.5 L308.0 118.5 L308.5 117.0 L310.0 116.5 L311.5 115.5 L312.5 114.0 L313.5 111.5 L314.5 109.0 L316.0 106.5 L317.5 105.0 L319.0 105.5 L320.5 106.5 L322.0 108.0 L323.0 109.5 L324.0 108.5 L325.0 106.0 L326.0 103.5 L326.5 102.5 L327.5 104.0 L328.5 103.5 L329.5 102.5 L330.5 102.0 L332.0 102.5 L333.5 103.5 L335.0 104.5 L336.5 105.5 L338.0 106.5 L339.0 108.0 L340.0 110.0 L340.8 113.0 L341.2 117.0 L341.6 119.5 L342.0 121.0 L342.5 122.0 L343.5 121.5 L345.0 122.0 L346.5 123.5 L347.5 125.0 L348.5 126.5 L349.5 129.5 L350.5 132.0 L351.5 134.0 L353.0 135.0 L354.5 134.5 L356.0 132.5 L357.5 129.0 L358.5 126.0 L359.5 123.5 L360.5 122.0 L361.5 123.0 L362.2 126.0 L362.8 130.0 L363.3 133.0 L363.8 134.0 L364.5 132.0 L365.2 128.0 L365.8 123.0 L366.5 120.5 L367.2 118.5 L368.0 117.5 L369.0 115.5 L370.0 114.5 L371.0 113.5 L372.5 111.5 L374.0 110.0 L375.5 110.5 L377.0 110.0 L378.5 108.5 L380.0 107.0 L381.5 105.5 L383.0 104.5 L384.5 104.0 L386.0 103.5 L387.5 103.2 L388.5 103.5 L389.5 104.5 L391.0 106.0 L392.5 107.0 L394.0 108.0 L395.5 108.5 L397.0 109.5 L398.5 110.5 L400.0 111.0 L401.5 111.5 L403.0 112.5 L404.5 113.0 L406.0 113.5 L407.5 113.5 L409.0 114.0 L410.4 114.5" stroke="#ff2d2d" stroke-width="1.2" fill="none" stroke-linejoin="round"/>
<rect x="232.60" y="94.35" width="177.80" height="48.95" stroke="#7a7a7a" stroke-width="0.9" fill="none"/>
<path d="M232.60 143.30v-1.6M232.60 94.35v1.6M259.00 143.30v-1.6M259.00 94.35v1.6M285.40 143.30v-1.6M285.40 94.35v1.6M311.80 143.30v-1.6M311.80 94.35v1.6M338.20 143.30v-1.6M338.20 94.35v1.6M364.60 143.30v-1.6M364.60 94.35v1.6M391.00 143.30v-1.6M391.00 94.35v1.6M232.60 133.25h1.6M410.40 133.25h-1.6M232.60 119.70h1.6M410.40 119.70h-1.6M232.60 106.15h1.6M410.40 106.15h-1.6" stroke="#7a7a7a" stroke-width="0.8" fill="none"/>
<text x="232.60" y="153.60" text-anchor="middle" font-size="6.8" fill="#404040" font-family="Liberation Sans, Arial, sans-serif">0</text>
<text x="259.00" y="153.60" text-anchor="middle" font-size="6.8" fill="#404040" font-family="Liberation Sans, Arial, sans-serif">20</text>
<text x="285.40" y="153.60" text-anchor="middle" font-size="6.8" fill="#404040" font-family="Liberation Sans, Arial, sans-serif">40</text>
<text x="311.80" y="153.60" text-anchor="middle" font-size="6.8" fill="#404040" font-family="Liberation Sans, Arial, sans-serif">60</text>
<text x="338.20" y="153.60" text-anchor="middle" font-size="6.8" fill="#404040" font-family="Liberation Sans, Arial, sans-serif">80</text>
<text x="364.60" y="153.60" text-anchor="middle" font-size="6.8" fill="#404040" font-family="Liberation Sans, Arial, sans-serif">100</text>
<text x="391.00" y="153.60" text-anchor="middle" font-size="6.8" fill="#404040" font-family="Liberation Sans, Arial, sans-serif">120</text>
<text x="229.60" y="136.95" text-anchor="end" font-size="6.6" fill="#404040" font-family="Liberation Sans, Arial, sans-serif">1.4</text>
<text x="229.60" y="123.40" text-anchor="end" font-size="6.6" fill="#404040" font-family="Liberation Sans, Arial, sans-serif">1.6</text>
<text x="229.60" y="109.85" text-anchor="end" font-size="6.6" fill="#404040" font-family="Liberation Sans, Arial, sans-serif">1.8</text>
<text x="321.50" y="90.55" text-anchor="middle" font-size="7.35" font-weight="bold" fill="#000000" font-family="Liberation Sans, Arial, sans-serif">Actuator Length 4</text>
<text x="321.50" y="163.50" text-anchor="middle" font-size="7.5" fill="#404040" font-family="Liberation Sans, Arial, sans-serif">[s]</text>
<text x="216.10" y="118.83" text-anchor="middle" font-size="7.5" fill="#404040" transform="rotate(-90 216.10 118.83)" font-family="Liberation Sans, Arial, sans-serif">[m]</text>
<path d="M52.57 176.20V225.15M78.94 176.20V225.15M105.31 176.20V225.15M131.68 176.20V225.15M158.05 176.20V225.15M184.42 176.20V225.15M26.20 215.10H203.80M26.20 201.55H203.80M26.20 188.00H203.80" stroke="#e8e8e8" stroke-width="0.7" fill="none"/>
<path d="M26.20 179.50H203.80" stroke="#0a0a0a" stroke-width="1.4" stroke-dasharray="3.5 4.5" stroke-dashoffset="1" fill="none"/>
<path d="M26.20 222.15H203.80" stroke="#0a0a0a" stroke-width="1.4" stroke-dasharray="3.5 4.5" stroke-dashoffset="1" fill="none"/>
<path d="M26.2 198.0 L27.0 195.0 L28.0 193.0 L29.0 193.5 L30.0 195.0 L31.5 196.5 L33.0 197.5 L35.0 198.5 L37.0 199.0 L39.0 199.5 L40.5 199.5 L41.5 200.5 L42.0 204.0 L42.5 210.0 L43.0 215.0 L43.5 212.0 L44.0 207.0 L44.5 200.0 L45.5 196.0 L46.5 192.5 L47.5 190.5 L48.5 191.5 L49.5 194.0 L50.5 196.5 L51.5 197.5 L52.5 198.5 L53.2 200.5 L54.0 203.0 L55.0 204.5 L56.0 203.5 L57.0 202.5 L58.0 203.0 L59.0 208.0 L59.5 213.0 L60.0 218.0 L60.5 216.0 L61.0 210.0 L61.5 206.0 L62.5 202.0 L63.0 198.0 L63.5 194.0 L65.0 189.0 L66.5 186.5 L67.5 187.0 L68.5 189.0 L69.5 191.0 L70.5 193.5 L72.0 196.5 L73.5 198.5 L75.0 200.5 L76.0 202.2 L77.2 202.0 L78.4 203.2 L79.6 205.2 L80.8 207.2 L81.7 209.0 L82.5 207.5 L83.2 204.4 L84.0 201.2 L84.8 198.8 L85.6 198.0 L86.4 197.2 L87.5 196.6 L88.8 196.8 L89.6 198.5 L90.0 204.0 L90.5 210.0 L90.8 214.0 L91.3 211.0 L92.0 207.6 L92.8 206.0 L93.6 204.8 L94.8 204.0 L96.0 203.2 L97.2 202.0 L98.4 200.4 L99.2 199.6 L99.6 203.6 L100.0 204.4 L100.4 202.0 L101.2 198.8 L102.4 196.4 L103.6 195.5 L104.8 195.0 L106.0 194.0 L107.5 192.0 L109.0 190.0 L110.5 189.0 L111.5 190.0 L112.5 192.0 L113.5 194.5 L114.5 197.0 L115.5 199.0 L116.5 201.5 L117.0 203.0 L118.0 203.5 L119.0 202.0 L120.0 201.0 L120.5 203.5 L121.5 204.0 L122.0 202.0 L122.5 199.0 L123.0 197.0 L124.0 196.5 L125.0 197.5 L126.0 199.0 L127.0 200.0 L128.5 200.5 L130.0 201.5 L131.5 201.8 L133.0 201.2 L134.0 203.0 L134.5 208.0 L135.0 214.0 L135.5 218.0 L136.0 216.0 L136.5 211.0 L137.0 207.0 L138.0 205.0 L139.5 205.5 L141.0 205.5 L142.5 205.0 L144.0 204.5 L145.5 203.5 L147.0 202.5 L148.0 201.0 L149.0 199.0 L150.0 194.0 L151.0 190.5 L152.0 189.5 L153.0 189.0 L154.0 190.0 L155.0 193.5 L155.5 198.0 L156.0 201.0 L156.5 202.5 L157.5 204.0 L158.0 202.0 L158.5 196.0 L159.5 191.0 L160.0 190.0 L160.5 194.0 L161.0 199.0 L161.5 202.0 L162.0 203.5 L162.5 200.0 L163.0 196.0 L164.0 192.0 L165.5 189.0 L167.0 188.0 L168.0 189.0 L169.0 192.0 L170.0 195.5 L171.0 198.5 L172.0 202.0 L173.0 204.0 L174.0 206.0 L175.0 205.0 L175.5 203.0 L176.0 200.5 L177.0 198.5 L178.5 196.5 L179.5 196.0 L180.5 197.0 L181.5 198.5 L182.5 200.0 L184.0 201.0 L185.5 202.0 L187.0 202.5 L188.5 202.5 L190.0 202.0 L192.0 201.5 L194.0 201.0 L195.5 200.5 L196.5 200.0 L197.5 201.5 L199.0 203.5 L200.0 204.5 L201.5 204.0 L203.0 203.0 L203.8 202.0" stroke="#24249c" stroke-width="1.2" fill="none" stroke-linejoin="round"/>
<path d="M26.2 200.0 L28.0 198.0 L30.0 195.5 L31.5 194.5 L33.0 195.5 L34.5 197.0 L36.0 198.5 L37.5 199.0 L39.0 198.0 L40.5 197.0 L42.0 197.5 L43.5 199.5 L44.5 201.5 L45.0 202.5 L46.0 203.0 L47.0 202.0 L47.5 200.5 L48.5 199.0 L49.5 196.0 L50.5 189.0 L51.5 185.0 L52.5 185.5 L53.5 189.0 L54.5 193.0 L55.5 196.0 L57.0 197.5 L58.5 196.5 L60.0 195.0 L61.0 196.5 L62.0 200.0 L63.0 204.5 L64.0 205.0 L65.0 203.5 L65.5 201.0 L66.5 194.0 L67.5 187.0 L68.5 183.0 L69.5 181.5 L70.5 183.0 L71.5 187.0 L72.5 191.0 L73.5 193.5 L75.0 194.0 L76.5 190.0 L77.5 188.0 L78.5 187.5 L79.2 189.0 L80.0 193.2 L80.8 196.4 L81.6 199.6 L82.4 202.8 L83.2 204.8 L84.0 204.0 L84.8 201.2 L86.0 198.0 L87.2 195.6 L88.4 194.0 L89.6 193.6 L90.4 194.8 L91.2 198.0 L92.0 202.0 L92.8 205.2 L93.6 206.8 L94.8 207.6 L96.0 206.0 L97.2 202.8 L98.4 198.8 L99.5 194.8 L100.5 195.5 L101.5 198.5 L102.5 200.5 L103.5 201.0 L104.5 200.0 L105.5 197.5 L106.5 193.0 L107.5 189.0 L108.5 185.5 L109.5 184.8 L110.5 185.5 L111.5 188.0 L112.5 190.5 L113.5 191.0 L114.5 190.0 L116.0 187.5 L117.5 185.5 L118.5 185.0 L119.5 186.0 L120.5 188.0 L121.6 191.2 L122.8 193.6 L124.0 194.0 L125.2 192.8 L126.4 190.4 L127.6 187.6 L128.8 186.4 L130.0 186.8 L130.8 188.8 L131.6 191.2 L132.8 194.0 L134.0 196.0 L135.1 197.1 L136.3 198.7 L137.1 200.5 L138.0 204.0 L139.5 205.0 L141.0 205.0 L142.5 205.0 L144.0 205.5 L145.0 207.5 L146.0 209.0 L147.5 209.5 L149.0 209.0 L150.5 208.0 L152.0 206.5 L153.5 204.0 L154.5 201.5 L155.5 201.0 L156.5 202.0 L157.5 204.5 L158.5 206.5 L159.5 206.5 L160.5 205.0 L161.5 203.0 L162.3 200.5 L163.0 197.5 L164.5 195.0 L166.0 193.5 L168.0 191.0 L170.0 188.5 L172.0 186.5 L173.5 185.5 L175.0 186.5 L176.5 188.5 L178.0 190.5 L179.5 189.5 L181.0 186.5 L182.5 184.5 L183.5 185.0 L185.0 187.0 L186.5 189.5 L188.0 191.0 L190.0 192.0 L192.0 193.5 L194.0 195.5 L195.5 196.5 L197.0 196.0 L198.5 195.5 L200.0 196.5 L201.5 198.0 L203.0 199.0 L203.8 199.5" stroke="#26962a" stroke-width="1.2" fill="none" stroke-linejoin="round"/>
<path d="M26.2 198.0 L27.5 196.5 L29.0 195.0 L30.5 194.5 L32.0 195.0 L33.5 196.0 L35.0 196.5 L36.5 196.5 L38.0 196.0 L39.5 195.5 L41.0 195.5 L42.0 196.5 L43.0 198.0 L44.0 196.0 L45.0 193.0 L46.0 190.0 L47.0 188.0 L48.0 187.5 L49.0 188.5 L50.0 190.5 L51.0 192.5 L52.0 193.5 L53.5 194.5 L55.0 195.0 L56.5 196.0 L58.0 197.5 L59.5 199.5 L60.3 201.5 L61.0 203.0 L61.5 202.0 L62.2 199.5 L63.0 197.5 L64.5 194.0 L66.0 191.0 L67.5 189.0 L69.0 188.0 L70.5 189.0 L72.0 190.0 L73.5 191.0 L75.0 192.0 L76.5 193.5 L77.5 196.0 L78.5 199.5 L79.5 202.5 L80.5 205.0 L81.5 206.8 L82.3 207.0 L83.2 205.8 L84.2 204.0 L85.2 202.8 L86.4 201.2 L87.6 199.6 L88.4 198.4 L89.2 198.8 L90.0 202.0 L91.0 204.5 L92.5 208.0 L94.0 211.0 L95.5 213.0 L96.5 212.5 L97.5 211.0 L98.8 208.0 L100.0 205.6 L101.2 204.4 L102.4 203.2 L103.6 202.4 L104.8 201.6 L106.0 200.4 L107.2 198.8 L108.4 197.2 L109.6 195.2 L110.8 193.6 L111.6 192.8 L112.4 193.6 L113.2 195.2 L114.0 196.8 L115.2 198.0 L116.4 198.4 L117.6 198.0 L118.5 196.7 L119.5 194.5 L120.5 192.5 L122.0 191.8 L123.6 190.4 L124.6 190.0 L125.5 190.8 L126.5 192.0 L127.5 193.6 L128.5 194.8 L129.6 195.6 L130.8 196.3 L132.0 197.1 L133.2 198.7 L134.5 202.5 L135.5 206.0 L136.0 207.0 L137.0 206.5 L138.0 206.0 L139.0 209.0 L140.0 212.0 L141.0 215.0 L142.5 217.5 L144.0 219.0 L145.5 219.5 L147.0 219.0 L148.5 218.0 L150.0 216.0 L151.5 213.0 L153.0 210.5 L154.0 209.5 L155.0 211.0 L156.0 214.0 L157.0 217.5 L157.8 218.5 L158.5 217.0 L159.5 213.0 L160.5 209.0 L161.5 206.0 L162.5 204.0 L163.5 201.5 L164.5 199.0 L165.5 197.0 L166.5 196.5 L167.5 197.5 L168.5 198.5 L170.0 200.0 L171.5 200.5 L172.5 199.0 L174.0 197.0 L175.5 195.0 L177.0 193.5 L178.5 192.0 L180.0 190.5 L181.0 190.0 L182.0 191.0 L183.5 193.0 L185.0 195.0 L186.5 197.0 L188.0 199.0 L189.5 201.0 L190.5 202.0 L192.0 202.5 L194.0 203.0 L195.5 203.5 L197.0 204.0 L198.5 205.0 L200.0 206.0 L201.5 206.5 L203.0 207.0 L203.8 207.0" stroke="#ff2d2d" stroke-width="1.2" fill="none" stroke-linejoin="round"/>
<rect x="26.20" y="176.20" width="177.60" height="48.95" stroke="#7a7a7a" stroke-width="0.9" fill="none"/>
<path d="M26.20 225.15v-1.6M26.20 176.20v1.6M52.57 225.15v-1.6M52.57 176.20v1.6M78.94 225.15v-1.6M78.94 176.20v1.6M105.31 225.15v-1.6M105.31 176.20v1.6M131.68 225.15v-1.6M131.68 176.20v1.6M158.05 225.15v-1.6M158.05 176.20v1.6M184.42 225.15v-1.6M184.42 176.20v1.6M26.20 215.10h1.6M203.80 215.10h-1.6M26.20 201.55h1.6M203.80 201.55h-1.6M26.20 188.00h1.6M203.80 188.00h-1.6" stroke="#7a7a7a" stroke-width="0.8" fill="none"/>
<text x="26.20" y="235.45" text-anchor="middle" font-size="6.8" fill="#404040" font-family="Liberation Sans, Arial, sans-serif">0</text>
<text x="52.57" y="235.45" text-anchor="middle" font-size="6.8" fill="#404040" font-family="Liberation Sans, Arial, sans-serif">20</text>
<text x="78.94" y="235.45" text-anchor="middle" font-size="6.8" fill="#404040" font-family="Liberation Sans, Arial, sans-serif">40</text>
<text x="105.31" y="235.45" text-anchor="middle" font-size="6.8" fill="#404040" font-family="Liberation Sans, Arial, sans-serif">60</text>
<text x="131.68" y="235.45" text-anchor="middle" font-size="6.8" fill="#404040" font-family="Liberation Sans, Arial, sans-serif">80</text>
<text x="158.05" y="235.45" text-anchor="middle" font-size="6.8" fill="#404040" font-family="Liberation Sans, Arial, sans-serif">100</text>
<text x="184.42" y="235.45" text-anchor="middle" font-size="6.8" fill="#404040" font-family="Liberation Sans, Arial, sans-serif">120</text>
<text x="23.20" y="218.80" text-anchor="end" font-size="6.6" fill="#404040" font-family="Liberation Sans, Arial, sans-serif">1.4</text>
<text x="23.20" y="205.25" text-anchor="end" font-size="6.6" fill="#404040" font-family="Liberation Sans, Arial, sans-serif">1.6</text>
<text x="23.20" y="191.70" text-anchor="end" font-size="6.6" fill="#404040" font-family="Liberation Sans, Arial, sans-serif">1.8</text>
<text x="115.00" y="172.40" text-anchor="middle" font-size="7.35" font-weight="bold" fill="#000000" font-family="Liberation Sans, Arial, sans-serif">Actuator Length 5</text>
<text x="115.00" y="245.35" text-anchor="middle" font-size="7.5" fill="#404040" font-family="Liberation Sans, Arial, sans-serif">[s]</text>
<text x="9.70" y="200.67" text-anchor="middle" font-size="7.5" fill="#404040" transform="rotate(-90 9.70 200.67)" font-family="Liberation Sans, Arial, sans-serif">[m]</text>
<path d="M259.00 176.20V225.15M285.40 176.20V225.15M311.80 176.20V225.15M338.20 176.20V225.15M364.60 176.20V225.15M391.00 176.20V225.15M232.60 215.10H410.40M232.60 201.55H410.40M232.60 188.00H410.40" stroke="#e8e8e8" stroke-width="0.7" fill="none"/>
<path d="M232.60 179.50H410.40" stroke="#0a0a0a" stroke-width="1.4" stroke-dasharray="3.5 4.5" stroke-dashoffset="1" fill="none"/>
<path d="M232.60 222.15H410.40" stroke="#0a0a0a" stroke-width="1.4" stroke-dasharray="3.5 4.5" stroke-dashoffset="1" fill="none"/>
<path d="M232.6 202.0 L234.0 203.5 L236.0 202.5 L238.0 202.0 L248.0 202.0 L248.3 199.0 L248.5 196.0 L249.0 192.0 L249.5 194.0 L250.0 199.0 L250.5 201.0 L251.5 204.0 L252.5 208.0 L253.5 210.0 L254.5 209.5 L255.5 207.5 L256.5 204.5 L257.5 201.0 L259.0 196.0 L260.5 193.5 L262.0 194.5 L263.5 195.5 L264.5 196.0 L265.5 191.0 L266.0 186.0 L266.5 185.0 L267.0 189.0 L267.5 196.0 L268.0 200.5 L269.0 203.0 L270.0 206.5 L271.0 209.5 L272.0 211.0 L273.0 211.5 L274.0 211.0 L275.0 209.0 L276.0 207.0 L277.0 204.5 L278.0 201.5 L279.5 198.0 L281.0 195.5 L282.5 194.0 L284.0 191.0 L285.0 188.5 L286.0 187.0 L287.0 186.0 L288.0 188.0 L289.0 193.0 L290.0 198.0 L291.0 201.0 L292.0 203.0 L293.0 204.0 L294.5 204.0 L295.5 203.0 L296.0 201.0 L296.5 196.0 L297.0 191.0 L297.5 190.0 L298.0 192.0 L299.0 193.0 L300.0 195.0 L301.0 197.0 L302.0 199.0 L303.0 200.5 L304.0 202.5 L305.0 204.5 L306.0 205.0 L307.0 206.0 L308.0 207.0 L309.0 206.5 L310.0 206.0 L311.0 206.5 L312.0 207.0 L313.0 208.0 L314.0 209.0 L315.0 209.5 L316.0 208.5 L317.0 207.0 L318.0 204.0 L319.0 201.0 L320.5 198.0 L321.5 195.0 L322.5 193.5 L323.5 194.5 L324.5 197.0 L325.5 200.0 L326.5 202.5 L327.5 203.5 L328.5 204.0 L330.0 203.5 L331.0 202.0 L332.0 199.5 L333.0 198.0 L334.5 195.5 L336.0 193.5 L338.0 194.5 L339.5 196.0 L340.5 195.0 L341.0 190.0 L341.5 184.0 L342.0 182.0 L343.0 186.0 L343.5 191.5 L344.5 192.0 L345.5 190.0 L347.0 188.0 L348.5 187.0 L349.5 187.5 L350.5 189.0 L351.5 191.0 L352.5 193.5 L353.5 196.0 L354.5 199.0 L355.5 203.0 L356.5 207.0 L357.5 209.5 L358.5 210.5 L359.5 209.5 L360.5 207.0 L361.5 203.5 L362.2 200.0 L362.5 199.0 L363.5 199.5 L364.5 200.0 L365.0 201.0 L365.5 203.0 L366.0 208.0 L366.5 211.5 L367.0 210.0 L367.5 207.0 L368.5 208.0 L370.0 209.3 L371.0 210.0 L372.0 211.0 L373.0 210.5 L374.0 208.0 L375.0 205.0 L376.0 202.0 L377.0 200.0 L378.5 198.5 L380.0 196.5 L381.0 197.5 L382.0 200.0 L383.0 202.0 L384.5 203.5 L386.0 203.5 L387.5 202.0 L388.5 199.0 L389.5 195.5 L391.0 192.5 L392.5 191.0 L393.5 191.5 L395.0 193.0 L396.5 194.5 L398.0 196.0 L399.5 197.5 L401.0 198.5 L402.5 199.0 L404.0 198.5 L405.5 198.0 L407.0 198.0 L408.5 198.5 L410.0 199.0 L410.4 199.5" stroke="#24249c" stroke-width="1.2" fill="none" stroke-linejoin="round"/>
<path d="M232.6 201.5 L236.0 201.5 L240.0 201.5 L244.0 201.5 L248.0 201.5 L249.5 201.5 L250.0 201.0 L251.0 198.5 L252.0 196.5 L253.0 197.5 L253.5 200.0 L254.5 204.0 L256.0 206.0 L257.5 207.0 L259.0 206.5 L260.5 205.5 L262.0 204.5 L263.5 204.0 L264.5 203.0 L266.0 201.5 L267.0 200.5 L268.5 196.0 L269.5 194.0 L270.5 195.0 L271.5 198.0 L272.0 200.5 L273.0 203.0 L274.0 206.0 L275.5 208.0 L277.0 209.0 L278.5 208.5 L280.0 207.5 L281.5 208.0 L283.0 207.5 L284.3 207.0 L285.5 205.5 L287.0 203.0 L288.0 201.0 L289.0 199.0 L290.0 198.5 L291.0 199.5 L292.0 202.0 L293.0 203.5 L294.0 204.0 L295.0 203.5 L295.5 202.0 L296.0 200.5 L297.0 198.0 L298.0 195.5 L299.0 192.0 L300.0 190.5 L301.0 191.5 L302.0 193.5 L303.0 195.5 L304.0 197.5 L305.0 198.5 L306.0 199.5 L307.0 201.0 L308.0 201.5 L308.5 200.5 L309.0 197.5 L310.0 196.0 L311.0 197.5 L311.5 201.0 L312.0 204.0 L313.0 206.5 L314.5 208.5 L316.0 210.0 L317.5 211.0 L319.0 211.5 L320.5 212.0 L322.0 212.5 L323.5 212.0 L325.0 211.5 L326.5 211.0 L328.0 210.0 L329.5 208.5 L330.5 208.0 L331.5 209.0 L333.0 210.5 L334.5 211.0 L336.0 210.0 L337.5 208.5 L339.0 207.5 L340.5 206.0 L342.0 204.0 L343.0 202.0 L343.7 200.0 L344.0 198.0 L345.0 195.5 L346.0 194.5 L347.5 194.0 L348.5 193.5 L350.0 192.0 L351.5 190.5 L353.0 189.0 L354.5 188.0 L356.0 188.0 L357.0 189.5 L358.0 192.0 L359.5 194.0 L361.0 194.5 L362.5 195.0 L364.0 194.5 L365.0 195.0 L366.0 197.0 L367.0 201.0 L368.0 204.0 L369.0 206.0 L370.5 207.2 L372.0 208.0 L373.0 209.5 L374.0 212.0 L375.5 216.5 L376.5 218.5 L377.5 219.0 L378.5 217.5 L379.5 214.5 L380.5 212.5 L382.0 211.2 L383.0 212.0 L384.0 214.0 L385.0 216.0 L386.5 218.0 L387.5 218.2 L389.0 217.0 L390.5 215.5 L392.0 214.0 L394.0 212.5 L396.0 212.0 L397.5 211.0 L399.0 209.5 L400.5 208.0 L402.0 207.0 L404.0 207.0 L405.5 207.2 L407.0 207.0 L408.5 206.5 L410.0 206.0 L410.4 206.0" stroke="#26962a" stroke-width="1.2" fill="none" stroke-linejoin="round"/>
<path d="M232.6 203.0 L233.0 205.5 L234.0 206.5 L236.0 207.0 L238.0 207.5 L240.0 208.0 L242.0 208.5 L244.0 209.0 L246.0 209.5 L248.0 209.5 L248.5 205.0 L249.0 196.0 L249.8 188.5 L250.5 191.0 L251.0 194.5 L252.0 196.5 L253.0 197.5 L254.0 199.0 L255.0 201.5 L256.0 204.0 L257.0 205.0 L258.0 204.5 L259.0 203.0 L260.0 202.0 L261.0 204.5 L262.0 204.0 L263.0 203.5 L264.0 204.0 L265.0 203.0 L265.7 199.0 L266.0 191.0 L266.5 185.0 L267.0 183.0 L267.5 184.5 L268.0 188.0 L269.0 191.5 L270.5 194.0 L272.0 195.5 L273.5 196.5 L275.0 196.0 L276.5 195.5 L278.0 196.0 L279.5 197.0 L281.0 198.0 L282.5 199.5 L283.5 200.5 L284.5 202.5 L285.5 204.0 L286.5 203.5 L287.0 201.5 L288.0 198.0 L289.0 196.0 L290.0 197.0 L291.0 199.0 L291.5 201.0 L292.5 203.5 L294.0 204.5 L295.5 204.5 L296.0 201.0 L296.5 194.0 L297.2 188.0 L298.0 186.5 L299.0 190.0 L300.0 193.0 L301.0 194.5 L302.0 196.0 L303.0 197.0 L304.0 197.5 L305.0 196.5 L306.0 192.0 L307.0 187.5 L308.0 188.0 L309.0 189.5 L310.5 189.0 L312.0 188.5 L313.5 189.0 L315.0 189.5 L316.5 190.5 L318.0 191.5 L319.5 192.5 L321.0 193.5 L322.5 194.5 L323.5 195.5 L324.5 197.5 L325.5 196.0 L326.5 192.0 L327.5 189.0 L328.5 190.0 L329.5 192.0 L330.5 193.0 L332.0 193.5 L333.5 194.5 L334.5 196.0 L336.0 196.5 L337.5 197.5 L339.0 198.5 L340.0 198.0 L341.0 191.0 L342.0 182.0 L342.5 180.5 L343.5 184.0 L344.5 188.0 L346.0 190.5 L347.5 192.0 L349.0 193.5 L350.5 195.5 L352.0 197.0 L353.5 197.5 L355.0 198.5 L356.0 199.5 L357.0 200.0 L358.0 201.5 L359.5 202.0 L361.0 201.0 L362.5 198.5 L363.5 198.0 L365.0 200.5 L366.0 202.5 L366.8 201.0 L367.5 194.0 L368.0 188.0 L368.5 185.5 L369.5 187.0 L370.5 188.5 L371.5 190.0 L372.5 191.5 L373.5 194.0 L375.0 196.0 L376.5 197.0 L378.0 197.5 L379.0 196.0 L380.0 191.0 L381.0 185.5 L381.5 185.0 L382.5 187.5 L384.0 190.5 L385.5 191.5 L387.0 191.0 L388.5 192.0 L390.0 194.0 L391.0 195.5 L392.0 196.5 L393.5 197.0 L395.0 197.0 L396.5 197.5 L398.0 198.0 L399.5 198.5 L401.0 198.5 L402.5 198.0 L404.0 196.5 L405.5 194.5 L407.0 193.0 L408.5 192.5 L410.0 193.0 L410.4 193.0" stroke="#ff2d2d" stroke-width="1.2" fill="none" stroke-linejoin="round"/>
<rect x="232.60" y="176.20" width="177.80" height="48.95" stroke="#7a7a7a" stroke-width="0.9" fill="none"/>
<path d="M232.60 225.15v-1.6M232.60 176.20v1.6M259.00 225.15v-1.6M259.00 176.20v1.6M285.40 225.15v-1.6M285.40 176.20v1.6M311.80 225.15v-1.6M311.80 176.20v1.6M338.20 225.15v-1.6M338.20 176.20v1.6M364.60 225.15v-1.6M364.60 176.20v1.6M391.00 225.15v-1.6M391.00 176.20v1.6M232.60 215.10h1.6M410.40 215.10h-1.6M232.60 201.55h1.6M410.40 201.55h-1.6M232.60 188.00h1.6M410.40 188.00h-1.6" stroke="#7a7a7a" stroke-width="0.8" fill="none"/>
<text x="232.60" y="235.45" text-anchor="middle" font-size="6.8" fill="#404040" font-family="Liberation Sans, Arial, sans-serif">0</text>
<text x="259.00" y="235.45" text-anchor="middle" font-size="6.8" fill="#404040" font-family="Liberation Sans, Arial, sans-serif">20</text>
<text x="285.40" y="235.45" text-anchor="middle" font-size="6.8" fill="#404040" font-family="Liberation Sans, Arial, sans-serif">40</text>
<text x="311.80" y="235.45" text-anchor="middle" font-size="6.8" fill="#404040" font-family="Liberation Sans, Arial, sans-serif">60</text>
<text x="338.20" y="235.45" text-anchor="middle" font-size="6.8" fill="#404040" font-family="Liberation Sans, Arial, sans-serif">80</text>
<text x="364.60" y="235.45" text-anchor="middle" font-size="6.8" fill="#404040" font-family="Liberation Sans, Arial, sans-serif">100</text>
<text x="391.00" y="235.45" text-anchor="middle" font-size="6.8" fill="#404040" font-family="Liberation Sans, Arial, sans-serif">120</text>
<text x="229.60" y="218.80" text-anchor="end" font-size="6.6" fill="#404040" font-family="Liberation Sans, Arial, sans-serif">1.4</text>
<text x="229.60" y="205.25" text-anchor="end" font-size="6.6" fill="#404040" font-family="Liberation Sans, Arial, sans-serif">1.6</text>
<text x="229.60" y="191.70" text-anchor="end" font-size="6.6" fill="#404040" font-family="Liberation Sans, Arial, sans-serif">1.8</text>
<text x="321.50" y="172.40" text-anchor="middle" font-size="7.35" font-weight="bold" fill="#000000" font-family="Liberation Sans, Arial, sans-serif">Actuator Length 6</text>
<text x="321.50" y="245.35" text-anchor="middle" font-size="7.5" fill="#404040" font-family="Liberation Sans, Arial, sans-serif">[s]</text>
<text x="216.10" y="200.67" text-anchor="middle" font-size="7.5" fill="#404040" transform="rotate(-90 216.10 200.67)" font-family="Liberation Sans, Arial, sans-serif">[m]</text>
<path d="M460.50 60.20V222.00M494.70 60.20V222.00M528.90 60.20V222.00M443.40 205.82H546.00M443.40 189.64H546.00M443.40 173.46H546.00M443.40 157.28H546.00M443.40 141.10H546.00M443.40 124.92H546.00M443.40 108.74H546.00M443.40 92.56H546.00M443.40 76.38H546.00" stroke="#e8e8e8" stroke-width="0.7" fill="none"/>
<rect x="452.12" y="128.80" width="16.76" height="93.20" fill="#000075" stroke="#1e1e1e" stroke-width="0.5"/>
<rect x="486.32" y="102.27" width="16.76" height="119.73" fill="#007a00" stroke="#1e1e1e" stroke-width="0.5"/>
<rect x="520.52" y="76.30" width="16.76" height="145.70" fill="#db3318" stroke="#1e1e1e" stroke-width="0.5"/>
<rect x="443.40" y="60.20" width="102.60" height="161.80" stroke="#7a7a7a" stroke-width="0.9" fill="none"/>
<path d="M460.50 222.00v-1.6M460.50 60.20v1.6M494.70 222.00v-1.6M494.70 60.20v1.6M528.90 222.00v-1.6M528.90 60.20v1.6M443.40 222.00h1.6M546.00 222.00h-1.6M443.40 205.82h1.6M546.00 205.82h-1.6M443.40 189.64h1.6M546.00 189.64h-1.6M443.40 173.46h1.6M546.00 173.46h-1.6M443.40 157.28h1.6M546.00 157.28h-1.6M443.40 141.10h1.6M546.00 141.10h-1.6M443.40 124.92h1.6M546.00 124.92h-1.6M443.40 108.74h1.6M546.00 108.74h-1.6M443.40 92.56h1.6M546.00 92.56h-1.6M443.40 76.38h1.6M546.00 76.38h-1.6M443.40 60.20h1.6M546.00 60.20h-1.6" stroke="#7a7a7a" stroke-width="0.8" fill="none"/>
<text x="440.80" y="225.40" text-anchor="end" font-size="6.8" fill="#404040" font-family="Liberation Sans, Arial, sans-serif">0</text>
<text x="440.80" y="209.22" text-anchor="end" font-size="6.8" fill="#404040" font-family="Liberation Sans, Arial, sans-serif">0.02</text>
<text x="440.80" y="193.04" text-anchor="end" font-size="6.8" fill="#404040" font-family="Liberation Sans, Arial, sans-serif">0.04</text>
<text x="440.80" y="176.86" text-anchor="end" font-size="6.8" fill="#404040" font-family="Liberation Sans, Arial, sans-serif">0.06</text>
<text x="440.80" y="160.68" text-anchor="end" font-size="6.8" fill="#404040" font-family="Liberation Sans, Arial, sans-serif">0.08</text>
<text x="440.80" y="144.50" text-anchor="end" font-size="6.8" fill="#404040" font-family="Liberation Sans, Arial, sans-serif">0.1</text>
<text x="440.80" y="128.32" text-anchor="end" font-size="6.8" fill="#404040" font-family="Liberation Sans, Arial, sans-serif">0.12</text>
<text x="440.80" y="112.14" text-anchor="end" font-size="6.8" fill="#404040" font-family="Liberation Sans, Arial, sans-serif">0.14</text>
<text x="440.80" y="95.96" text-anchor="end" font-size="6.8" fill="#404040" font-family="Liberation Sans, Arial, sans-serif">0.16</text>
<text x="440.80" y="79.78" text-anchor="end" font-size="6.8" fill="#404040" font-family="Liberation Sans, Arial, sans-serif">0.18</text>
<text x="440.80" y="63.60" text-anchor="end" font-size="6.8" fill="#404040" font-family="Liberation Sans, Arial, sans-serif">0.2</text>
<text x="460.50" y="231.80" text-anchor="middle" font-size="6.8" fill="#404040" font-family="Liberation Sans, Arial, sans-serif">CWF</text>
<text x="494.70" y="231.80" text-anchor="middle" font-size="6.8" fill="#404040" font-family="Liberation Sans, Arial, sans-serif">LMPC</text>
<text x="528.90" y="231.80" text-anchor="middle" font-size="6.8" fill="#404040" font-family="Liberation Sans, Arial, sans-serif">NLMPC</text>
<text x="494.70" y="56.40" text-anchor="middle" font-size="7.2" font-weight="bold" fill="#000000" font-family="Liberation Sans, Arial, sans-serif">IQR</text>
<rect x="495.2" y="7.6" width="51.7" height="33.9" fill="#fff" stroke="#7a7a7a" stroke-width="0.8"/>
<path d="M497.1 12.3H516.7" stroke="#24249c" stroke-width="0.8" fill="none"/>
<text x="518.6" y="14.80" font-size="6" fill="#1e1e1e" font-family="Liberation Sans, Arial, sans-serif">CWF</text>
<path d="M497.1 20.4H516.7" stroke="#26962a" stroke-width="0.8" fill="none"/>
<text x="518.6" y="22.90" font-size="6" fill="#1e1e1e" font-family="Liberation Sans, Arial, sans-serif">LMPC</text>
<path d="M497.1 28.5H516.7" stroke="#ff2d2d" stroke-width="0.8" fill="none"/>
<text x="518.6" y="31.00" font-size="6" fill="#1e1e1e" font-family="Liberation Sans, Arial, sans-serif">NLMPC</text>
<path d="M497.1 36.9H516.7" stroke="#1e1e1e" stroke-width="1.3" stroke-dasharray="3.3 4.8" fill="none"/>
<text x="518.6" y="39.40" font-size="6" fill="#1e1e1e" font-family="Liberation Sans, Arial, sans-serif">Act Limits</text>
</svg></body></html>
